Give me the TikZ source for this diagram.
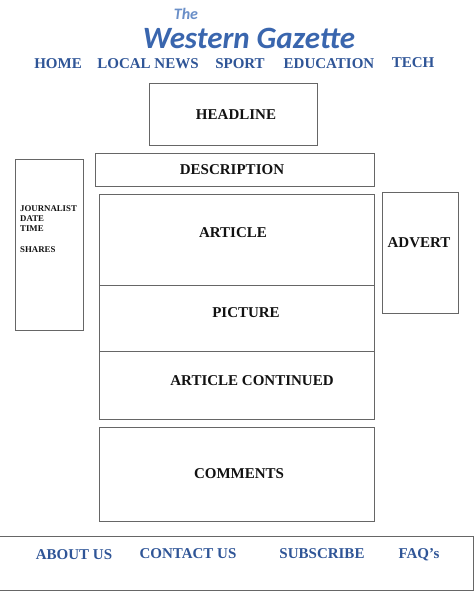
\documentclass[tikz,border=0pt]{standalone}
\usepackage{fontspec}
\setmainfont{Liberation Serif}
\newfontfamily\mastfont{Carlito}
\usepackage{tikz}
\usetikzlibrary{positioning}
\definecolor{ink}     {HTML}{111111}
\definecolor{frame}   {HTML}{666666}
\definecolor{navblue} {HTML}{2F5597}
\definecolor{mastblue}{HTML}{3A66AE}
\definecolor{theblue} {HTML}{6A8FC8}
\tikzset{
  % --- boxes
  box/.style   = {draw=frame, line width=1pt},
  % --- text
  lbl/.style   = {font=\fontsize{15}{17}\selectfont\bfseries, text=ink, inner sep=0pt},
  nav/.style   = {font=\fontsize{15}{17}\selectfont\bfseries, text=navblue, inner sep=0pt},
  meta/.style  = {font=\fontsize{8.8}{10}\selectfont\bfseries, text=ink, inner sep=0pt,
                  anchor=west},
}

\begin{document}
\begin{tikzpicture}[x=1pt,y=-1pt]
  \useasboundingbox (0,0) rectangle (474,609);

  % masthead
  \node[font=\mastfont\fontsize{16}{18}\selectfont\bfseries\itshape,text=theblue,inner sep=0pt] (the) at (186,14) {The};
  \node[font=\mastfont\fontsize{31}{33}\selectfont\bfseries\itshape,text=mastblue,inner sep=0pt] (title) at (249,38) {Western Gazette};

  \node[nav] (home)  at (58,64)  {HOME};
  \node[nav] (local) at (148,64) {LOCAL NEWS};
  \node[nav] (sport) at (240,64) {SPORT};
  \node[nav] (edu)   at (329,64) {EDUCATION};
  \node[nav] (tech)  at (413,63) {TECH};

  % main column
  \draw[box] (149,84) rectangle (317,146);
  \node[lbl] (headline) at (236,115) {HEADLINE};

  \draw[box] (95,154) rectangle (374,187);
  \node[lbl] (descr) at (232,170) {DESCRIPTION};

  \draw[box] (99,195) rectangle (374,419);
  \draw[box] (99,285) -- (374,285);
  \draw[box] (99,351) -- (374,351);
  \node[lbl] (article) at (233,233) {ARTICLE};
  \node[lbl] (picture) at (246,313) {PICTURE};
  \node[lbl] (contd)   at (252,381) {ARTICLE CONTINUED};

  \draw[box] (99,427) rectangle (374,521);
  \node[lbl] (comments) at (239,474) {COMMENTS};

  % side panels
  \draw[box] (15,160) rectangle (83,330);
  \node[meta] (journ)  at (20,209) {JOURNALIST};
  \node[meta] (date)   at (20,219) {DATE};
  \node[meta] (time)   at (20,229) {TIME};
  \node[meta] (shares) at (20,250) {SHARES};

  \draw[box] (382,193) rectangle (458,313);
  \node[lbl] (advert) at (419,243) {ADVERT};

  % footer
  \draw[box] (-1,536) rectangle (473,590);
  \node[nav] (about)   at (74,555)  {ABOUT US};
  \node[nav] (contact) at (188,554) {CONTACT US};
  \node[nav] (subs)    at (322,554) {SUBSCRIBE};
  \node[nav] (faq)     at (419,555) {FAQ’s};
\end{tikzpicture}
\end{document}
